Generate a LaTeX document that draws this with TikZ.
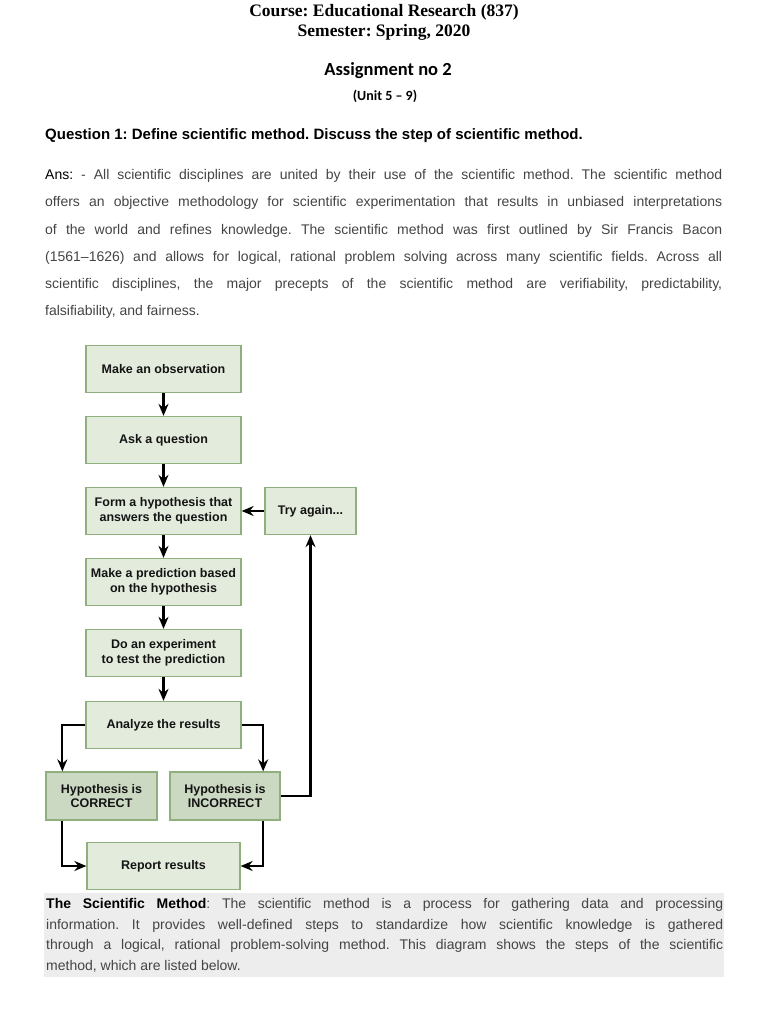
\documentclass[tikz,border=0pt]{standalone}
\usepackage{fontspec}
\setmainfont{Liberation Sans}
\newfontfamily\serifhead{Liberation Serif}
\newfontfamily\calhead{Carlito}
\usetikzlibrary{arrows.meta}
\frenchspacing

% colours picked from the flow chart
\definecolor{boxfill}{HTML}{E3EBDD}
\definecolor{boxline}{HTML}{8FB07C}
\definecolor{darkfill}{HTML}{CBD8C2}
\definecolor{bandgray}{HTML}{EDEDED}
\definecolor{bodygray}{HTML}{444444}

% one justified line of running text
\newcommand{\fullline}[1]{\makebox[677pt][s]{#1}}

\begin{document}
\begin{tikzpicture}[x=1pt, y=-1pt,
    stepbox/.style={draw=boxline, line width=1.3pt, fill=boxfill,
        minimum width=155pt, minimum height=47pt, inner sep=2pt,
        align=center, text=black!92,
        font=\bfseries\fontsize{12.5}{14.5}\selectfont},
    resultbox/.style={stepbox, fill=darkfill, minimum width=111pt, minimum height=48pt},
    bodyline/.style={anchor=base west, inner sep=0pt, text=bodygray,
        font=\fontsize{14}{16}\selectfont},
    flow/.style={line width=2.2pt, -{Stealth[length=12pt, width=10pt, inset=4pt]}}]

    \useasboundingbox (0,0) rectangle (768,1024);

    % Header of the assignment
    \node[font=\serifhead\bfseries\fontsize{17.5}{20}\selectfont] (course) at (384,12) {Course: Educational Research (837)};
    \node[font=\serifhead\bfseries\fontsize{17.5}{20}\selectfont] (semester) at (384,32) {Semester: Spring, 2020};
    \node[font=\calhead\bfseries\fontsize{18.5}{20}\selectfont] (assign) at (388,71) {Assignment no 2};
    \node[font=\calhead\bfseries\fontsize{14}{16}\selectfont] (unit) at (385,96) {(Unit 5 – 9)};

    % Question and answer
    \node[anchor=base west, inner sep=0pt, font=\bfseries\fontsize{15}{17}\selectfont] (question) at (45,140)
        {Question 1: Define scientific method. Discuss the step of scientific method.};
    \node[bodyline] (ans1) at (45,180) {\fullline{{\color{black}Ans:} - All scientific disciplines are united by their use of the scientific method. The scientific method}};
    \node[bodyline] (ans2) at (45,207) {\fullline{offers an objective methodology for scientific experimentation that results in unbiased interpretations}};
    \node[bodyline] (ans3) at (45,234) {\fullline{of the world and refines knowledge. The scientific method was first outlined by Sir Francis Bacon}};
    \node[bodyline] (ans4) at (45,261) {\fullline{(1561--1626) and allows for logical, rational problem solving across many scientific fields. Across all}};
    \node[bodyline] (ans5) at (45,288) {\fullline{scientific disciplines, the major precepts of the scientific method are verifiability, predictability,}};
    \node[bodyline] (ans6) at (45,315) {falsifiability, and fairness.};

    % The steps of the method
    \node[stepbox] (observe) at (163.5,369) {Make an observation};
    \node[stepbox] (ask) at (163.5,440) {Ask a question};
    \node[stepbox] (form) at (163.5,511) {Form a hypothesis that\\answers the question};
    \node[stepbox, minimum width=91pt] (again) at (310.5,511) {Try again...};
    \node[stepbox] (predict) at (163.5,582) {Make a prediction based\\on the hypothesis};
    \node[stepbox] (experiment) at (163.5,653) {Do an experiment\\to test the prediction};
    \node[stepbox] (analyze) at (163.5,725) {Analyze the results};
    \node[resultbox] (correct) at (101.5,796) {Hypothesis is\\CORRECT};
    \node[resultbox, minimum width=110pt] (incorrect) at (225,796) {Hypothesis is\\INCORRECT};
    \node[stepbox, minimum width=153pt] (report) at (163.5,866) {Report results};

    % where the side arrows meet the result boxes
    \coordinate (cin) at ([xshift=17pt]correct.north west);
    \coordinate (cout) at ([xshift=17pt]correct.south west);
    \coordinate (iin) at ([xshift=-17.5pt]incorrect.north east);
    \coordinate (iout) at ([xshift=-17.5pt]incorrect.south east);

    % Arrows between the steps
    \draw[flow] (observe) -- (ask);
    \draw[flow] (ask) -- (form);
    \draw[flow] (form) -- (predict);
    \draw[flow] (predict) -- (experiment);
    \draw[flow] (experiment) -- (analyze);
    \draw[flow] (analyze.west) -| (cin);
    \draw[flow] (analyze.east) -| (iin);
    \draw[flow] (cout) |- (report.west);
    \draw[flow] (iout) |- (report.east);
    \draw[flow] (incorrect.east) -| (again.south);
    \draw[flow] (again.west) -- (form.east);

    % Caption under the chart
    \fill[bandgray] (44,893) rectangle (724,977);
    \node[bodyline] (cap1) at (46,908) {\fullline{{\color{black}\bfseries The Scientific Method}: The scientific method is a process for gathering data and processing}};
    \node[bodyline] (cap2) at (46,929) {\fullline{information. It provides well-defined steps to standardize how scientific knowledge is gathered}};
    \node[bodyline] (cap3) at (46,949) {\fullline{through a logical, rational problem-solving method. This diagram shows the steps of the scientific}};
    \node[bodyline] (cap4) at (46,970) {method, which are listed below.};

\end{tikzpicture}
\end{document}
